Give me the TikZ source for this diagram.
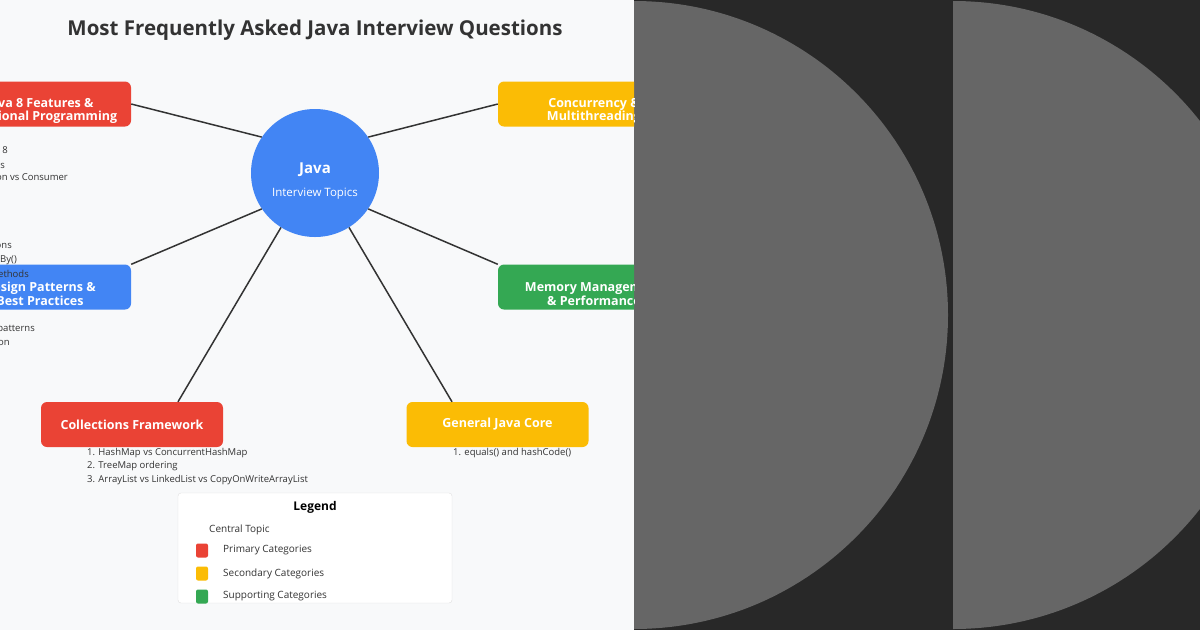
\documentclass[tikz,border=0pt]{standalone}
\usepackage{fontspec}
\setmainfont{Open Sans}
\usetikzlibrary{calc}
\definecolor{bg}{HTML}{F8F9FA}
\definecolor{gred}{HTML}{EA4335}
\definecolor{gyel}{HTML}{FBBC05}
\definecolor{ggrn}{HTML}{34A853}
\definecolor{gblu}{HTML}{4285F4}
\definecolor{dark}{HTML}{282828}
\definecolor{disk}{HTML}{666666}
\definecolor{txt}{HTML}{333333}
\tikzset{
  cat/.style={rounded corners=6pt, minimum width=182pt, minimum height=45pt, text=white, font=\fontsize{12.5}{13}\selectfont\bfseries, align=center, inner sep=0pt},
  cattext/.style={text=white, font=\fontsize{12.5}{13.5}\selectfont\bfseries, align=center, inner sep=0pt},
  item/.style={anchor=west, font=\fontsize{9.5}{10}\selectfont, text=txt, inner sep=0pt},
  itemr/.style={anchor=east, font=\fontsize{9.5}{10}\selectfont, text=txt, inner sep=0pt},
  link/.style={draw=txt, line width=1.5pt},
  swatch/.style={rounded corners=2pt, minimum width=12pt, minimum height=14pt, inner sep=0pt}
}
\begin{document}
\begin{tikzpicture}[x=1pt,y=-1pt]
\useasboundingbox (0,0) rectangle (1200,630);
\fill[bg] (0,0) rectangle (634,630);
\fill[dark] (634,0) rectangle (1200,630);
\begin{scope}
\clip (634,0) rectangle (948,630);
\fill[disk] (634,315) circle (314);
\end{scope}
\begin{scope}
\clip (953,0) rectangle (1200,630);
\fill[disk] (953,315) circle (314);
\end{scope}
\begin{scope}
\clip (0,0) rectangle (634,630);
\node[font=\fontsize{20.5}{22}\selectfont\bfseries, text=txt] (title) at (315,30) {Most Frequently Asked Java Interview Questions};
\node[circle, fill=gblu, minimum size=128pt, inner sep=0pt] (c) at (315,173) {};
\node[text=white, font=\fontsize{15}{16}\selectfont\bfseries] (cj) at (315,170) {Java};
\node[text=white, font=\fontsize{11.5}{12}\selectfont] (ci) at (315,194) {Interview Topics};

\node[cat, fill=gred] (j8) at (40,104) {};
\node[cat, fill=gyel] (cc) at (589,104) {};
\node[cat, fill=gblu] (dp) at (40,287) {};
\node[cat, fill=ggrn] (mm) at (589,287) {};
\node[cattext] (j8t) at (40,111) {Java 8 Features \&\\Functional Programming};
\node[cattext] (cct) at (594,111) {Concurrency \&\\Multithreading};
\node[cattext] (dpt) at (40,294) {Design Patterns \&\\Best Practices};
\node[cattext] (mmt) at (594,294) {Memory Management\\\& Performance};
\node[cat, fill=gred] (co) at (132,424.5) {Collections Framework};
\node[cat, fill=gyel] (gj) at (497.5,424.5) {General Java Core};

\draw[link] (c.146) -- (j8.east);
\draw[link] (c.34) -- (cc.west);
\draw[link] (c.214) -- (dp.north east);
\draw[link] (c.-34) -- (mm.north west);
\draw[link] (c.238) -- ($(co.north)+(46,0)$);
\draw[link] (c.-58) -- ($(gj.north)+(-45.5,0)$);

\node[itemr] (a1) at (8,151) {1. What's new in Java 8};
\node[itemr] (a2) at (5,164.5) {2. Lambdas};
\node[itemr] (a3) at (68,178) {3. Supplier vs Function vs Consumer};
\node[itemr] (a4) at (12,246.5) {4. Stream operations};
\node[itemr] (a5) at (17,260) {5. groupingBy()};
\node[itemr] (a6) at (29,273.5) {6. Default methods};
\node[itemr] (b1) at (35,329) {1. Anti-patterns};
\node[itemr] (b2) at (10,343.5) {2. Dependency Injection};

\node[item] (k1) at (87,453) {1. HashMap vs ConcurrentHashMap};
\node[item] (k2) at (87,466.5) {2. TreeMap ordering};
\node[item] (k3) at (87,480.5) {3. ArrayList vs LinkedList vs CopyOnWriteArrayList};
\node[item] (g1) at (453,453) {1. equals() and hashCode()};

\draw[draw=black!12, fill=white, rounded corners=3pt] (178,493) rectangle (452,603);
\node[font=\fontsize{12}{13}\selectfont\bfseries] (lg) at (315,507) {Legend};
\node[item, font=\fontsize{10}{11}\selectfont] (l0) at (209,529.5) {Central Topic};
\node[swatch, fill=gred] (s1) at (202,550.5) {};
\node[swatch, fill=gyel] (s2) at (202,573.5) {};
\node[swatch, fill=ggrn] (s3) at (202,596.5) {};
\node[item, font=\fontsize{10}{11}\selectfont] (l1) at (223,550.5) {Primary Categories};
\node[item, font=\fontsize{10}{11}\selectfont] (l2) at (223,573.5) {Secondary Categories};
\node[item, font=\fontsize{10}{11}\selectfont] (l3) at (223,596.5) {Supporting Categories};
\end{scope}
\end{tikzpicture}
\end{document}
